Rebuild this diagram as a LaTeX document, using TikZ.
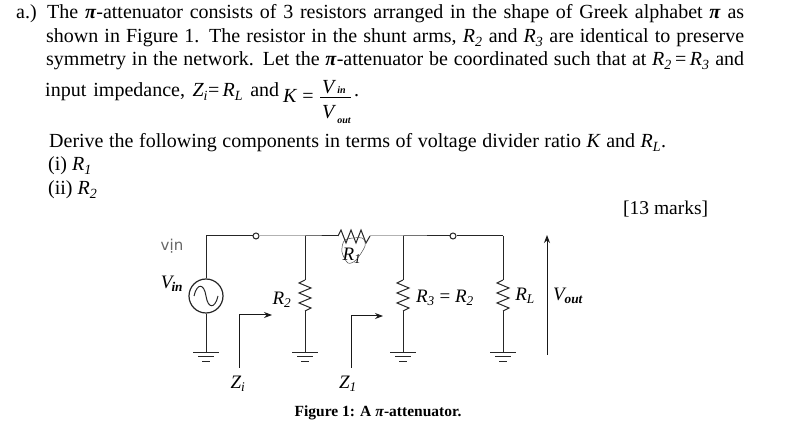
\documentclass[tikz,border=0pt]{standalone}
\usepackage{fontspec}
\usetikzlibrary{arrows.meta}
\setmainfont{Liberation Serif}
\newfontfamily\handfont{DejaVu Sans}
\newcommand{\mypi}{\textbf{\textit{π}}}
\newcommand{\rr}[1]{\textit{R\textsubscript{#1}}}
\tikzset{
    wire/.style={line width=1pt, black!85},
    pointer/.style={-{Stealth[length=8pt, width=6pt]}, line width=1pt, black!90},
    textline/.style={anchor=base west, inner sep=0pt, font=\fontsize{20}{22}\selectfont},
    label/.style={inner sep=0pt, font=\fontsize{19}{21}\selectfont\itshape},
    terminal/.style={circle, draw=black!85, fill=white, line width=1pt, inner sep=0pt, minimum size=6pt},
    pics/vres/.style={code={
        \draw[wire] (0, 0) -- (-6, 3) -- (6, 8) -- (-6, 13) -- (6, 18) -- (-6, 23) -- (6, 28) -- (0, 31);
    }},
    pics/gnd/.style={code={
        \draw[wire] (-13, 0) -- (13, 0);
        \draw[wire] (-8, 4) -- (8, 4);
        \draw[wire] (-4, 9) -- (4, 9);
    }}
}
\begin{document}
\begin{tikzpicture}[x=1pt, y=-1pt]
        \useasboundingbox (0, 0) rectangle (785, 435);

        % question text
        \node[textline] (qa) at (16, 19) {a.)};
        \node[textline] (q1) at (47, 19) {\makebox[697pt][s]{The \mypi-attenuator consists of 3 resistors arranged in the shape of Greek alphabet \mypi{} as}};
        \node[textline] (q2) at (46, 43) {\makebox[698pt][s]{shown in Figure 1. The resistor in the shunt arms, \rr{2} and \rr{3} are identical to preserve}};
        \node[textline] (q3) at (46, 66) {\makebox[698pt][s]{symmetry in the network. Let the \mypi-attenuator be coordinated such that at \rr{2}\,=\,\rr{3} and}};
        \node[textline] (q4) at (45, 97) {\makebox[234pt][s]{input impedance, \textit{Z\textsubscript{i}}=\,\rr{L} and}};
        \node[textline] (keq) at (283, 103) {\textit{K}\hspace{5pt}=};
        \node[textline] (vtop) at (322, 94) {\textit{V}\raisebox{0pt}{\kern1pt\fontsize{10}{11}\selectfont\bfseries\itshape in}};
        \node[textline] (vbot) at (322, 119) {\textit{V}\raisebox{-5pt}{\kern1pt\fontsize{10}{11}\selectfont\bfseries\itshape out}};
        \draw[line width=1pt] (320, 98) -- (351, 98);
        \node[textline] (qdot) at (354, 97) {.};
        \node[textline] (q5) at (49, 148) {\makebox[617pt][s]{Derive the following components in terms of voltage divider ratio \textit{K} and \rr{L}.}};
        \node[textline] (q6) at (48, 171) {(i) \rr{1}};
        \node[textline] (q7) at (48, 195) {(ii) \rr{2}};
        \node[textline, font=\fontsize{19.5}{21}\selectfont] (marks) at (623, 215) {[13 marks]};

        % circuit
        \coordinate (tl) at (206, 236);
        \coordinate (r1in) at (338, 236);
        \coordinate (r1out) at (370, 236);
        \coordinate (tr) at (503, 236);
        \coordinate (j2) at (305, 236);
        \coordinate (j3) at (403, 236);
        \node[terminal] (tin) at (256, 236) {};
        \node[terminal] (tout) at (453, 236) {};
        \node[circle, draw=black!85, line width=1.2pt, fill=white, minimum size=34pt, inner sep=0pt] (src) at (206, 296) {};
        \draw[wire] (194, 296) .. controls (197, 283) and (204, 283) .. (206, 296)
            .. controls (208, 309) and (215, 309) .. (218, 296);

        \draw[wire] (src) -- (tl) -- (tin) -- (j2) -- (r1in);
        \draw[wire] (r1in) -- (341, 230) -- (346, 243) -- (351, 230) -- (356, 243) -- (361, 230) -- (366, 243) -- (r1out);
        \draw[wire] (r1out) -- (j3) -- (tout) -- (tr);

        \pic at (305, 280) {vres};
        \pic at (403, 280) {vres};
        \pic at (503, 280) {vres};
        \coordinate (g0) at (206, 353);
        \coordinate (g2) at (305, 353);
        \coordinate (g3) at (403, 353);
        \coordinate (g4) at (503, 353);
        \pic at (g0) {gnd};
        \pic at (g2) {gnd};
        \pic at (g3) {gnd};
        \pic at (g4) {gnd};
        \draw[wire] (src) -- (g0);
        \draw[wire] (j2) -- (305, 280) (305, 311) -- (g2);
        \draw[wire] (j3) -- (403, 280) (403, 311) -- (g3);
        \draw[wire] (tr) -- (503, 280) (503, 311) -- (g4);

        % impedance arrows and output voltage
        \draw[pointer] (239, 368) -- (239, 315) -- (272, 315);
        \draw[pointer] (351, 368) -- (351, 316) -- (383, 316);
        \draw[pointer] (547, 355) -- (547, 235);

        % labels
        \node[font=\fontsize{15}{16}\selectfont\handfont, text=black!60, inner sep=0pt] (vhand) at (172, 246) {vịn};
        \node[label] (vin) at (172, 284) {V\textsubscript{\kern-1pt\bfseries in}};
        \node[label] (r2) at (282, 300) {R\textsubscript{2}};
        \node[label] (r1) at (352, 256) {R\textsubscript{1}};
        \node[label] (r3) at (445, 298) {R\textsubscript{3} \textup{=} R\textsubscript{2}};
        \node[label] (rl) at (525, 296) {R\textsubscript{L}};
        \node[label] (vout) at (568, 296) {V\textsubscript{\bfseries out}};
        \node[label] (zi) at (238, 384) {Z\textsubscript{i}};
        \node[label] (z1) at (348, 384) {Z\textsubscript{1}};
        \draw[line width=0.5pt, black!70] plot[smooth cycle] coordinates {(345, 240) (342, 252) (348, 263) (356, 260) (365, 246) (362, 238)};
        \node[inner sep=0pt, font=\fontsize{15.5}{17}\selectfont\bfseries] (cap) at (378, 413) {Figure 1: A \mypi-attenuator.};
\end{tikzpicture}
\end{document}
